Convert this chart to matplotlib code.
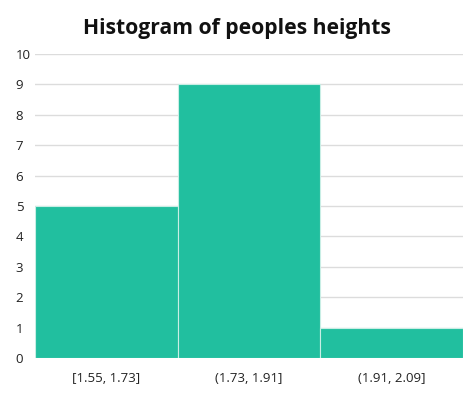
import numpy as np
import matplotlib.pyplot as plt

# histogram bins and counts
bin_labels = ["[1.55, 1.73]", "(1.73, 1.91]", "(1.91, 2.09]"]
counts = [5, 9, 1]
y_ticks = list(range(0, 11))

plt.rcParams['font.family'] = ['Open Sans', 'DejaVu Sans']

fig = plt.figure(figsize=(4.74, 3.97), dpi=100)
ax = fig.add_axes([0.074, 0.098, 0.903, 0.766])

x = np.arange(len(counts))
ax.bar(x, counts, width=1.0, color="#21bf9f", edgecolor="#c8eee5", linewidth=0.8, zorder=3)

ax.set_xlim(-0.5, len(counts) - 0.5)
ax.set_ylim(0, 10)
ax.set_yticks(y_ticks)
ax.set_xticks(x)
ax.set_xticklabels(bin_labels)
ax.tick_params(length=0, labelsize=9.5, colors="#222222")
ax.tick_params(axis="x", pad=10)
ax.tick_params(axis="y", pad=14)
for lbl in ax.get_yticklabels():
    lbl.set_horizontalalignment("left")
ax.grid(True, axis="y", color="#dcdcdc", linewidth=1, zorder=0)
for s in ax.spines.values():
    s.set_visible(False)

fig.text(0.5, 0.928, "Histogram of peoples heights", ha="center", va="center",
         fontsize=15.2, fontweight="bold", color="#111111")

plt.savefig("out.png", dpi=100)
